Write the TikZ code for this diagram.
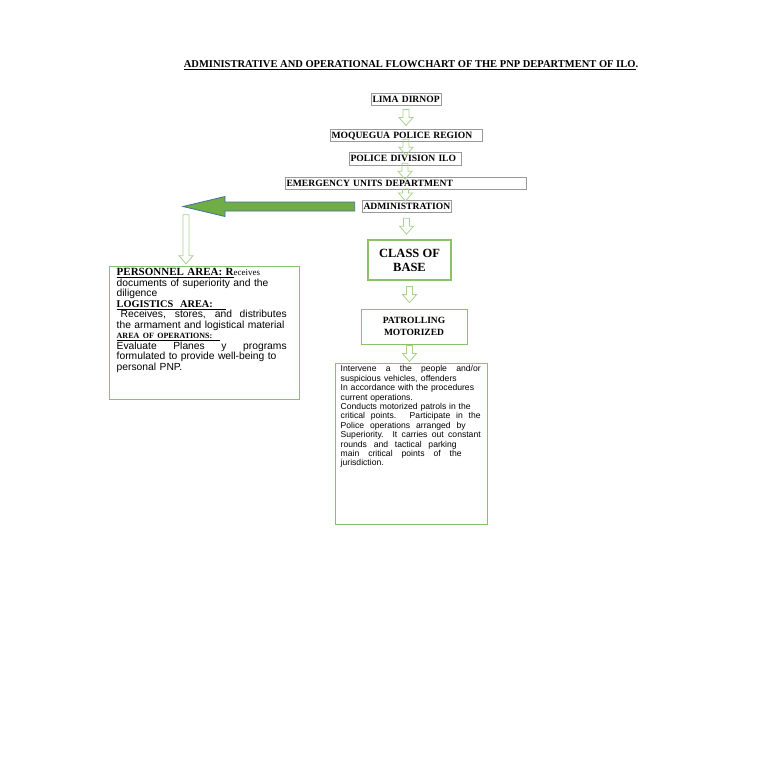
\documentclass[tikz,border=0pt]{standalone}
\usepackage{fontspec}
\setmainfont{Liberation Serif}
\newfontfamily\bodyfont{Liberation Sans}
\usetikzlibrary{calc}

\definecolor{boxgreen}{HTML}{8CC16B}
\definecolor{arrowgreen}{HTML}{A9D18E}
\definecolor{fillgreen}{HTML}{70AD47}
\definecolor{edgeblue}{HTML}{41719C}

\tikzset{
  topbox/.style={draw=gray!80, line width=0.6pt, align=left, inner xsep=1.5pt, inner ysep=2pt,
    text height=7pt, text depth=1.5pt, font=\bfseries\fontsize{9.6}{11}\selectfont},
  greenbox/.style={draw=boxgreen, line width=1pt},
  hollow/.style={draw=arrowgreen, line width=0.8pt},
  bigarrow/.style={fill=fillgreen, draw=edgeblue, line width=0.8pt},
}

% hollow down arrow, centred between two points, #1 = its length
\newcommand{\hollowdown}[3][16]{%
  \draw[hollow] let \p1=#2, \p2=#3, \n1={(\y1+\y2)/2} in
    (\x1-3pt,\n1+#1*0.5pt) -- (\x1-3pt,\n1-#1*0.5pt+8pt) -- (\x1-7pt,\n1-#1*0.5pt+8pt)
    -- (\x1,\n1-#1*0.5pt) -- (\x1+7pt,\n1-#1*0.5pt+8pt) -- (\x1+3pt,\n1-#1*0.5pt+8pt)
    -- (\x1+3pt,\n1+#1*0.5pt) -- cycle;}
% one line spread out to a given width
\newcommand{\spreadline}[2]{\makebox[#1][s]{\spaceskip=0pt\xspaceskip=0pt #2}}

\begin{document}
\begin{tikzpicture}[x=1pt, y=-1pt]
\useasboundingbox (0,0) rectangle (768,761);

\node[font=\bfseries\fontsize{10.5}{12}\selectfont] (title) at (411,65)
  {\underline{ADMINISTRATIVE AND OPERATIONAL FLOWCHART OF THE PNP DEPARTMENT OF ILO}.};

% chain of command
\node[topbox, text width=67pt] (lima) at (406,99.5) {\mbox{LIMA DIRNOP}};
\node[topbox, text width=149pt] (region) at (406,135.5) {MOQUEGUA POLICE REGION};
\node[topbox, text width=109pt] (division) at (405,159) {POLICE DIVISION ILO};
\node[topbox, text width=238pt] (emergency) at (405.5,183.5) {EMERGENCY UNITS DEPARTMENT};
\node[topbox, text width=86pt] (admin) at (406.5,206.5) {ADMINISTRATION};

\node[greenbox, line width=1.5pt, minimum width=83pt, minimum height=40pt, align=center,
  font=\bfseries\fontsize{12.5}{14}\selectfont] (base) at (409.5,260) {CLASS OF\\BASE};
\node[greenbox, minimum width=106pt, minimum height=35pt, align=center,
  font=\bfseries\fontsize{9.5}{12}\selectfont] (patrol) at (414,326.5) {PATROLLING\\MOTORIZED};

% administration areas
\node[greenbox, minimum width=190pt, minimum height=133pt] (leftbox) at (204,332.5) {};
\node[anchor=north west, inner sep=0pt, text width=170pt, align=left,
  font=\bodyfont\fontsize{10.3}{10.5}\selectfont] (lefttext) at ($(leftbox.north west)+(8,3)$) {%
  {\rmfamily\underline{\fontsize{11}{10.5}\selectfont\textbf{PERSONNEL AREA: R}}\fontsize{9}{10.5}\selectfont eceives}\\
  documents of superiority and the\\
  diligence\\
  {\rmfamily\bfseries\fontsize{10.3}{10.5}\selectfont\underline{LOGISTICS\ \ AREA:\hspace{13pt}}}\\
  \spreadline{170pt}{\hspace*{4pt}Receives, stores, and distributes}\\
  the armament and logistical material\\
  {\rmfamily\bfseries\fontsize{8}{10.5}\selectfont\underline{AREA OF OPERATIONS:\hspace{8pt}}}\\
  \spreadline{170pt}{Evaluate Planes y programs}\\
  formulated to provide well-being to\\
  personal PNP.};

% patrol duties
\node[greenbox, minimum width=152pt, minimum height=161pt] (opsbox) at (411,443.5) {};
\node[anchor=north west, inner sep=0pt, text width=140pt, align=left,
  font=\bodyfont\fontsize{8.6}{9.4}\selectfont] (opstext) at ($(opsbox.north west)+(6,3)$) {%
  \spreadline{140pt}{Intervene a the people and/or}\\
  \spreadline{116pt}{suspicious vehicles, offenders}\\
  In accordance with the procedures\\
  current operations.\\
  Conducts motorized patrols in the\\
  \spreadline{140pt}{critical points. Participate in the}\\
  \spreadline{125pt}{Police operations arranged by}\\
  \spreadline{140pt}{Superiority. It carries out constant}\\
  \spreadline{116pt}{rounds and tactical parking}\\
  \spreadline{121pt}{main critical points of the}\\
  jurisdiction.};

% big arrow to the left
\coordinate (armtip) at (183,206.5);
\coordinate (armfoot) at (186,213);
\draw[bigarrow] ($(admin.west)+(-7,4.5)$) -- ($(armtip)+(42,4.5)$) -- ($(armtip)+(42,10)$)
  -- (armtip) -- ($(armtip)+(42,-10)$) -- ($(armtip)+(42,-4.5)$) -- ($(admin.west)+(-7,-4.5)$) -- cycle;

\hollowdown{(lima.south)}{(region.north)}
\hollowdown{(region.south)}{(division.north)}
\hollowdown{(division.south)}{(emergency.north)}
\hollowdown[12]{(emergency.south)}{(admin.north)}
\hollowdown{(admin.south)}{(base.north)}
\hollowdown{(base.south)}{(patrol.north)}
\hollowdown{(patrol.south -| base.center)}{(opsbox.north)}
\hollowdown[49]{(armfoot)}{(leftbox.north)}
\end{tikzpicture}
\end{document}
